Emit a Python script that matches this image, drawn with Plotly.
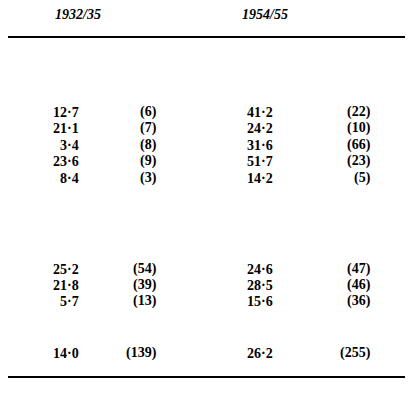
import plotly.graph_objects as go

headers = ["1932/35", "1954/55"]
pct_3235 = ["12·7", "21·1", "3·4", "23·6", "8·4", "25·2", "21·8", "5·7", "14·0"]
n_3235 = ["(6)", "(7)", "(8)", "(9)", "(3)", "(54)", "(39)", "(13)", "(139)"]
pct_5455 = ["41·2", "24·2", "31·6", "51·7", "14·2", "24·6", "28·5", "15·6", "26·2"]
n_5455 = ["(22)", "(10)", "(66)", "(23)", "(5)", "(47)", "(46)", "(36)", "(255)"]

off = 7
row_y = [y - off for y in [111, 127, 144, 160, 177, 268, 284, 300, 352]]
col_right = [x - off for x in [80, 158, 274, 372]]
font = dict(family="Liberation Serif", size=14, color="black")

fig = go.Figure()
ann = []
for hx, h in zip([77 - off, 264 - off], headers):
    ann.append(dict(x=hx, y=13 - off, text=f"<b><i>{h}</i></b>", showarrow=False,
                    xanchor="center", yanchor="middle", font=font))
for col, xr in zip([pct_3235, n_3235, pct_5455, n_5455], col_right):
    for v, y in zip(col, row_y):
        ann.append(dict(x=xr, y=y, text=f"<b>{v}</b>", showarrow=False,
                        xanchor="right", yanchor="middle", font=font))
fig.update_layout(
    width=413, height=413, margin=dict(l=0, r=0, t=0, b=0),
    paper_bgcolor="white", plot_bgcolor="white",
    xaxis=dict(range=[0, 413], visible=False),
    yaxis=dict(range=[413, 0], visible=False),
    annotations=ann,
    shapes=[dict(type="line", x0=-10, x1=413, y0=36 - off, y1=36 - off, line=dict(color="black", width=2)),
            dict(type="line", x0=-10, x1=413, y0=376 - off, y1=376 - off, line=dict(color="black", width=2))],
)
fig.write_html("out.html")
